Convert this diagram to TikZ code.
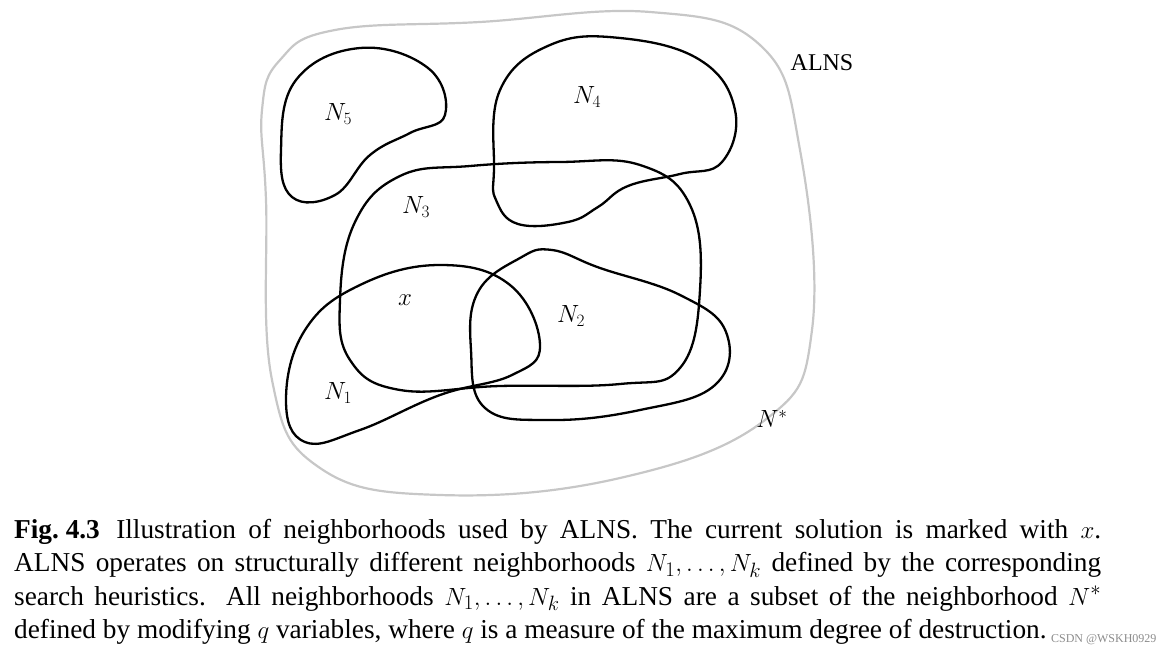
\documentclass[tikz,border=0pt]{standalone}
\usepackage{fontspec}
\setmainfont{Liberation Serif}
\begin{document}
\begin{tikzpicture}[x=1pt,y=-1pt,
  blob/.style={draw=black,line width=2.3pt},
  lab/.style={font=\fontsize{24}{28}\selectfont}]
\useasboundingbox (0,0) rectangle (1173,658);
\draw[draw=black!22,line width=2.2pt] plot[smooth cycle,tension=0.7] coordinates
 {(335,30) (480,22) (650,12) (760,45) (800,150) (812,330) (765,420) (620,478) (440,495) (320,468) (272,380) (266,200) (262,110) (280,60)};
\draw[blob] plot[smooth cycle,tension=0.7] coordinates
 {(281,150) (296,80) (360,48) (428,68) (445,115) (410,133) (370,155) (335,195) (292,197)};
\draw[blob] plot[smooth cycle,tension=0.7] coordinates
 {(494,170) (500,90) (550,45) (620,38) (700,60) (735,110) (722,162) (680,174) (628,186) (598,207) (568,222) (518,224) (496,200)};
\draw[blob] plot[smooth cycle,tension=0.7] coordinates
 {(340,300) (355,222) (400,176) (470,166) (560,162) (640,165) (690,205) (700,290) (680,368) (620,384) (500,386) (400,390) (350,360)};
\draw[blob] plot[smooth cycle,tension=0.7] coordinates
 {(286,400) (305,330) (360,285) (440,265) (510,285) (540,345) (512,375) (440,395) (360,430) (305,442)};
\draw[blob] plot[smooth cycle,tension=0.7] coordinates
 {(478,292) (520,258) (552,250) (600,268) (680,295) (726,332) (715,385) (640,410) (550,420) (485,408) (471,350)};
\node[lab] (alns) at (822,63) {ALNS};
\node[lab] (n5) at (338,114) {$N_5$};
\node[lab] (n4) at (587,97) {$N_4$};
\node[lab] (n3) at (416,207) {$N_3$};
\node[lab] (x) at (405,300) {$x$};
\node[lab] (n2) at (571,316) {$N_2$};
\node[lab] (n1) at (338,393) {$N_1$};
\node[lab] (ns) at (772,419) {$N^*$};
\node[anchor=north west,inner sep=0pt,text width=1087pt,align=justify,
  font=\fontsize{27.3}{33.3}\selectfont] (cap) at (14,519)
 {\hbox{\textbf{Fig.\ 4.3}}\hspace{0.6em}Illustration of neighborhoods used by ALNS. The current solution is marked with $x$.\linebreak
 ALNS operates on structurally different neighborhoods $N_1,\ldots,N_k$ defined by the corresponding\linebreak
 search heuristics. All neighborhoods $N_1,\ldots,N_k$ in ALNS are a subset of the neighborhood $N^*$\linebreak
 defined by modifying $q$ variables, where $q$ is a measure of the maximum degree of destruction.};
\node[anchor=east,text=black!45,font=\fontsize{12}{14}\selectfont] (wm) at (1160,640) {CSDN @WSKH0929};
\end{tikzpicture}
\end{document}
